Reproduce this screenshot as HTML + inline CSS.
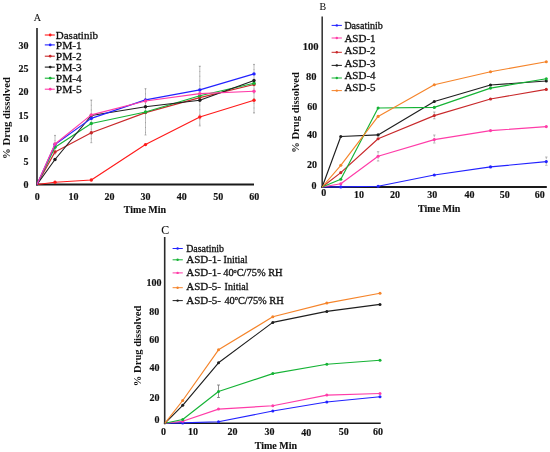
<!DOCTYPE html>
<html><head><meta charset="utf-8"><style>
html,body{margin:0;padding:0;background:#fff;}
body{width:550px;height:452px;overflow:hidden;}
svg{display:block;font-family:"Liberation Serif",serif;will-change:transform;}
</style></head><body>
<svg width="550" height="452" viewBox="0 0 550 452">
<rect width="550" height="452" fill="#fff"/>
<line x1="37" y1="28" x2="37" y2="185.5" stroke="#3a3a3a" stroke-width="1.8" />
<line x1="36.1" y1="184.5" x2="254" y2="184.5" stroke="#1a1a1a" stroke-width="1.8" />
<text x="37.3" y="21.3" font-size="10" font-weight="normal" font-style="normal" text-anchor="middle" fill="#111" stroke="#111" stroke-width="0.05" >A</text>
<text x="28.5" y="188.0" font-size="10" font-weight="bold" font-style="normal" text-anchor="end" fill="#111" stroke="#111" stroke-width="0.15" >0</text>
<text x="28.5" y="165.4" font-size="10" font-weight="bold" font-style="normal" text-anchor="end" fill="#111" stroke="#111" stroke-width="0.15" >5</text>
<text x="28.5" y="142.1" font-size="10" font-weight="bold" font-style="normal" text-anchor="end" fill="#111" stroke="#111" stroke-width="0.15" >10</text>
<text x="28.5" y="118.9" font-size="10" font-weight="bold" font-style="normal" text-anchor="end" fill="#111" stroke="#111" stroke-width="0.15" >15</text>
<text x="28.5" y="95.0" font-size="10" font-weight="bold" font-style="normal" text-anchor="end" fill="#111" stroke="#111" stroke-width="0.15" >20</text>
<text x="28.5" y="72.3" font-size="10" font-weight="bold" font-style="normal" text-anchor="end" fill="#111" stroke="#111" stroke-width="0.15" >25</text>
<text x="28.5" y="48.9" font-size="10" font-weight="bold" font-style="normal" text-anchor="end" fill="#111" stroke="#111" stroke-width="0.15" >30</text>
<text x="37.3" y="199.6" font-size="10" font-weight="bold" font-style="normal" text-anchor="middle" fill="#111" stroke="#111" stroke-width="0.15" >0</text>
<text x="73.5" y="199.6" font-size="10" font-weight="bold" font-style="normal" text-anchor="middle" fill="#111" stroke="#111" stroke-width="0.15" >10</text>
<text x="109.5" y="199.6" font-size="10" font-weight="bold" font-style="normal" text-anchor="middle" fill="#111" stroke="#111" stroke-width="0.15" >20</text>
<text x="145.4" y="199.6" font-size="10" font-weight="bold" font-style="normal" text-anchor="middle" fill="#111" stroke="#111" stroke-width="0.15" >30</text>
<text x="181.8" y="199.6" font-size="10" font-weight="bold" font-style="normal" text-anchor="middle" fill="#111" stroke="#111" stroke-width="0.15" >40</text>
<text x="218.2" y="199.6" font-size="10" font-weight="bold" font-style="normal" text-anchor="middle" fill="#111" stroke="#111" stroke-width="0.15" >50</text>
<text x="254.2" y="199.6" font-size="10" font-weight="bold" font-style="normal" text-anchor="middle" fill="#111" stroke="#111" stroke-width="0.15" >60</text>
<text x="145" y="212.7" font-size="10" font-weight="bold" font-style="normal" text-anchor="middle" fill="#111" stroke="#111" stroke-width="0.15" >Time Min</text>
<text transform="translate(9.6,158.9) rotate(-90)" font-size="10.75" font-weight="bold" fill="#111">% Drug dissolved</text>
<line x1="55" y1="135.4" x2="55" y2="154" stroke="#b4b4b4" stroke-width="0.9" />
<line x1="55" y1="135.4" x2="55" y2="154" stroke="#777" stroke-width="0.5" stroke-dasharray="0.8 4"/>
<line x1="54" y1="135.4" x2="56" y2="135.4" stroke="#888" stroke-width="0.6" />
<line x1="54" y1="154" x2="56" y2="154" stroke="#888" stroke-width="0.6" />
<line x1="91.3" y1="100" x2="91.3" y2="142.7" stroke="#b4b4b4" stroke-width="0.9" />
<line x1="91.3" y1="100" x2="91.3" y2="142.7" stroke="#777" stroke-width="0.5" stroke-dasharray="0.8 4"/>
<line x1="90.3" y1="100" x2="92.3" y2="100" stroke="#888" stroke-width="0.6" />
<line x1="90.3" y1="142.7" x2="92.3" y2="142.7" stroke="#888" stroke-width="0.6" />
<line x1="145.5" y1="88.7" x2="145.5" y2="135" stroke="#b4b4b4" stroke-width="0.9" />
<line x1="145.5" y1="88.7" x2="145.5" y2="135" stroke="#777" stroke-width="0.5" stroke-dasharray="0.8 4"/>
<line x1="144.5" y1="88.7" x2="146.5" y2="88.7" stroke="#888" stroke-width="0.6" />
<line x1="144.5" y1="135" x2="146.5" y2="135" stroke="#888" stroke-width="0.6" />
<line x1="199.8" y1="66.2" x2="199.8" y2="125.9" stroke="#b4b4b4" stroke-width="0.9" />
<line x1="199.8" y1="66.2" x2="199.8" y2="125.9" stroke="#777" stroke-width="0.5" stroke-dasharray="0.8 4"/>
<line x1="198.8" y1="66.2" x2="200.8" y2="66.2" stroke="#888" stroke-width="0.6" />
<line x1="198.8" y1="125.9" x2="200.8" y2="125.9" stroke="#888" stroke-width="0.6" />
<line x1="254" y1="64.4" x2="254" y2="113" stroke="#b4b4b4" stroke-width="0.9" />
<line x1="254" y1="64.4" x2="254" y2="113" stroke="#777" stroke-width="0.5" stroke-dasharray="0.8 4"/>
<line x1="253" y1="64.4" x2="255" y2="64.4" stroke="#888" stroke-width="0.6" />
<line x1="253" y1="113" x2="255" y2="113" stroke="#888" stroke-width="0.6" />
<polyline points="37,184.5 55,182.2 91.3,180 145.5,144.6 199.8,117 254,100.2" fill="none" stroke="#ff1a1a" stroke-width="1.15" stroke-linejoin="round"/>
<circle cx="55" cy="182.2" r="1.7" fill="#ff1a1a"/>
<circle cx="91.3" cy="180" r="1.7" fill="#ff1a1a"/>
<circle cx="145.5" cy="144.6" r="1.7" fill="#ff1a1a"/>
<circle cx="199.8" cy="117" r="1.7" fill="#ff1a1a"/>
<circle cx="254" cy="100.2" r="1.7" fill="#ff1a1a"/>
<polyline points="37,184.5 55,151.9 91.3,132.8 145.5,112.6 199.8,97.6 254,84.5" fill="none" stroke="#c8282a" stroke-width="1.15" stroke-linejoin="round"/>
<circle cx="55" cy="151.9" r="1.7" fill="#c8282a"/>
<circle cx="91.3" cy="132.8" r="1.7" fill="#c8282a"/>
<circle cx="145.5" cy="112.6" r="1.7" fill="#c8282a"/>
<circle cx="199.8" cy="97.6" r="1.7" fill="#c8282a"/>
<circle cx="254" cy="84.5" r="1.7" fill="#c8282a"/>
<polyline points="37,184.5 55,147.3 91.3,123.5 145.5,112 199.8,95.8 254,83.2" fill="none" stroke="#15b335" stroke-width="1.15" stroke-linejoin="round"/>
<circle cx="55" cy="147.3" r="1.7" fill="#15b335"/>
<circle cx="91.3" cy="123.5" r="1.7" fill="#15b335"/>
<circle cx="145.5" cy="112" r="1.7" fill="#15b335"/>
<circle cx="199.8" cy="95.8" r="1.7" fill="#15b335"/>
<circle cx="254" cy="83.2" r="1.7" fill="#15b335"/>
<polyline points="37,184.5 55,159.5 91.3,115.5 145.5,106.8 199.8,100.2 254,80.5" fill="none" stroke="#1e1e1e" stroke-width="1.15" stroke-linejoin="round"/>
<circle cx="55" cy="159.5" r="1.7" fill="#1e1e1e"/>
<circle cx="91.3" cy="115.5" r="1.7" fill="#1e1e1e"/>
<circle cx="145.5" cy="106.8" r="1.7" fill="#1e1e1e"/>
<circle cx="199.8" cy="100.2" r="1.7" fill="#1e1e1e"/>
<circle cx="254" cy="80.5" r="1.7" fill="#1e1e1e"/>
<polyline points="37,184.5 55,144.5 91.3,118.4 145.5,99.9 199.8,89.9 254,73.9" fill="none" stroke="#2222ff" stroke-width="1.15" stroke-linejoin="round"/>
<circle cx="55" cy="144.5" r="1.7" fill="#2222ff"/>
<circle cx="91.3" cy="118.4" r="1.7" fill="#2222ff"/>
<circle cx="145.5" cy="99.9" r="1.7" fill="#2222ff"/>
<circle cx="199.8" cy="89.9" r="1.7" fill="#2222ff"/>
<circle cx="254" cy="73.9" r="1.7" fill="#2222ff"/>
<polyline points="37,184.5 55,144 91.3,114.9 145.5,101 199.8,93.6 254,91.2" fill="none" stroke="#ff3ca8" stroke-width="1.15" stroke-linejoin="round"/>
<circle cx="55" cy="144" r="1.7" fill="#ff3ca8"/>
<circle cx="91.3" cy="114.9" r="1.7" fill="#ff3ca8"/>
<circle cx="145.5" cy="101" r="1.7" fill="#ff3ca8"/>
<circle cx="199.8" cy="93.6" r="1.7" fill="#ff3ca8"/>
<circle cx="254" cy="91.2" r="1.7" fill="#ff3ca8"/>
<line x1="44.8" y1="35" x2="54.8" y2="35" stroke="#ff1a1a" stroke-width="1.1" />
<circle cx="50.2" cy="35" r="1.4" fill="#ff1a1a"/>
<text x="55.8" y="38.8" font-size="11" font-weight="normal" font-style="normal" text-anchor="start" fill="#111" stroke="#111" stroke-width="0.3" >Dasatinib</text>
<line x1="44.8" y1="44.9" x2="54.8" y2="44.9" stroke="#2222ff" stroke-width="1.1" />
<circle cx="50.2" cy="44.9" r="1.4" fill="#2222ff"/>
<text x="55.8" y="49.4" font-size="11.4" font-weight="normal" font-style="normal" text-anchor="start" fill="#111" stroke="#111" stroke-width="0.3" >PM-1</text>
<line x1="44.8" y1="56.2" x2="54.8" y2="56.2" stroke="#c8282a" stroke-width="1.1" />
<circle cx="50.2" cy="56.2" r="1.4" fill="#c8282a"/>
<text x="55.8" y="59.7" font-size="11.4" font-weight="normal" font-style="normal" text-anchor="start" fill="#111" stroke="#111" stroke-width="0.3" >PM-2</text>
<line x1="44.8" y1="67.1" x2="54.8" y2="67.1" stroke="#1e1e1e" stroke-width="1.1" />
<circle cx="50.2" cy="67.1" r="1.4" fill="#1e1e1e"/>
<text x="55.8" y="70.6" font-size="11.4" font-weight="normal" font-style="normal" text-anchor="start" fill="#111" stroke="#111" stroke-width="0.3" >PM-3</text>
<line x1="44.8" y1="78.2" x2="54.8" y2="78.2" stroke="#15b335" stroke-width="1.1" />
<circle cx="50.2" cy="78.2" r="1.4" fill="#15b335"/>
<text x="55.8" y="82.2" font-size="11.4" font-weight="normal" font-style="normal" text-anchor="start" fill="#111" stroke="#111" stroke-width="0.3" >PM-4</text>
<line x1="44.8" y1="89.2" x2="54.8" y2="89.2" stroke="#ff3ca8" stroke-width="1.1" />
<circle cx="50.2" cy="89.2" r="1.4" fill="#ff3ca8"/>
<text x="55.8" y="93" font-size="11.4" font-weight="normal" font-style="normal" text-anchor="start" fill="#111" stroke="#111" stroke-width="0.3" >PM-5</text>
<line x1="322.2" y1="16.6" x2="322.2" y2="188" stroke="#3a3a3a" stroke-width="1.6" />
<line x1="321.4" y1="187" x2="546.8" y2="187" stroke="#1a1a1a" stroke-width="1.8" />
<text x="322.8" y="10.4" font-size="10" font-weight="normal" font-style="normal" text-anchor="middle" fill="#111" stroke="#111" stroke-width="0.05" >B</text>
<text x="316.6" y="188.7" font-size="10" font-weight="bold" font-style="normal" text-anchor="end" fill="#111" stroke="#111" stroke-width="0.15" >0</text>
<text x="317" y="168.0" font-size="10" font-weight="bold" font-style="normal" text-anchor="end" fill="#111" stroke="#111" stroke-width="0.15" >20</text>
<text x="317" y="138.3" font-size="10" font-weight="bold" font-style="normal" text-anchor="end" fill="#111" stroke="#111" stroke-width="0.15" >40</text>
<text x="317.2" y="109.6" font-size="10" font-weight="bold" font-style="normal" text-anchor="end" fill="#111" stroke="#111" stroke-width="0.15" >60</text>
<text x="316.5" y="79.8" font-size="10.5" font-weight="bold" font-style="normal" text-anchor="end" fill="#111" stroke="#111" stroke-width="0.15" >80</text>
<text x="318.6" y="50.4" font-size="10.6" font-weight="bold" font-style="normal" text-anchor="end" fill="#111" stroke="#111" stroke-width="0.15" >100</text>
<text x="323.7" y="196.2" font-size="10" font-weight="bold" font-style="normal" text-anchor="middle" fill="#111" stroke="#111" stroke-width="0.15" >0</text>
<text x="359" y="198.3" font-size="10" font-weight="bold" font-style="normal" text-anchor="middle" fill="#111" stroke="#111" stroke-width="0.15" >10</text>
<text x="395" y="198.3" font-size="10" font-weight="bold" font-style="normal" text-anchor="middle" fill="#111" stroke="#111" stroke-width="0.15" >20</text>
<text x="432.3" y="197.8" font-size="10" font-weight="bold" font-style="normal" text-anchor="middle" fill="#111" stroke="#111" stroke-width="0.15" >30</text>
<text x="469.5" y="197.8" font-size="10" font-weight="bold" font-style="normal" text-anchor="middle" fill="#111" stroke="#111" stroke-width="0.15" >40</text>
<text x="504.8" y="197.8" font-size="10" font-weight="bold" font-style="normal" text-anchor="middle" fill="#111" stroke="#111" stroke-width="0.15" >50</text>
<text x="539.8" y="197.8" font-size="10" font-weight="bold" font-style="normal" text-anchor="middle" fill="#111" stroke="#111" stroke-width="0.15" >60</text>
<text x="439.2" y="211.7" font-size="10" font-weight="bold" font-style="normal" text-anchor="middle" fill="#111" stroke="#111" stroke-width="0.15" >Time Min</text>
<text transform="translate(298.6,152.8) rotate(-90)" font-size="10.6" font-weight="bold" fill="#111">% Drug dissolved</text>
<line x1="378.1" y1="151.7" x2="378.1" y2="161" stroke="#8a8a8a" stroke-width="0.6" stroke-dasharray="2 0.8"/>
<line x1="376.90000000000003" y1="151.7" x2="379.3" y2="151.7" stroke="#8a8a8a" stroke-width="0.6" />
<line x1="376.90000000000003" y1="161" x2="379.3" y2="161" stroke="#8a8a8a" stroke-width="0.6" />
<line x1="434.3" y1="112" x2="434.3" y2="118.8" stroke="#8a8a8a" stroke-width="0.6" stroke-dasharray="2 0.8"/>
<line x1="433.1" y1="112" x2="435.5" y2="112" stroke="#8a8a8a" stroke-width="0.6" />
<line x1="433.1" y1="118.8" x2="435.5" y2="118.8" stroke="#8a8a8a" stroke-width="0.6" />
<line x1="434.3" y1="135" x2="434.3" y2="143" stroke="#8a8a8a" stroke-width="0.6" stroke-dasharray="2 0.8"/>
<line x1="433.1" y1="135" x2="435.5" y2="135" stroke="#8a8a8a" stroke-width="0.6" />
<line x1="433.1" y1="143" x2="435.5" y2="143" stroke="#8a8a8a" stroke-width="0.6" />
<line x1="546.3" y1="157" x2="546.3" y2="165.3" stroke="#8a8a8a" stroke-width="0.6" stroke-dasharray="2 0.8"/>
<line x1="545.0999999999999" y1="157" x2="547.5" y2="157" stroke="#8a8a8a" stroke-width="0.6" />
<line x1="545.0999999999999" y1="165.3" x2="547.5" y2="165.3" stroke="#8a8a8a" stroke-width="0.6" />
<polyline points="322.2,187 340.8,186.9 378.1,186.3 434.3,175 490.5,166.9 546.3,161.6" fill="none" stroke="#2222ff" stroke-width="1.15" stroke-linejoin="round"/>
<circle cx="340.8" cy="186.9" r="1.55" fill="#2222ff"/>
<circle cx="378.1" cy="186.3" r="1.55" fill="#2222ff"/>
<circle cx="434.3" cy="175" r="1.55" fill="#2222ff"/>
<circle cx="490.5" cy="166.9" r="1.55" fill="#2222ff"/>
<circle cx="546.3" cy="161.6" r="1.55" fill="#2222ff"/>
<polyline points="322.2,187 340.8,183.8 378.1,156.2 434.3,139.6 490.5,130.6 546.3,126.6" fill="none" stroke="#ff3ca8" stroke-width="1.15" stroke-linejoin="round"/>
<circle cx="340.8" cy="183.8" r="1.55" fill="#ff3ca8"/>
<circle cx="378.1" cy="156.2" r="1.55" fill="#ff3ca8"/>
<circle cx="434.3" cy="139.6" r="1.55" fill="#ff3ca8"/>
<circle cx="490.5" cy="130.6" r="1.55" fill="#ff3ca8"/>
<circle cx="546.3" cy="126.6" r="1.55" fill="#ff3ca8"/>
<polyline points="322.2,187 340.8,172.6 378.1,138.7 434.3,115.6 490.5,99 546.3,89.4" fill="none" stroke="#c8282a" stroke-width="1.15" stroke-linejoin="round"/>
<circle cx="340.8" cy="172.6" r="1.55" fill="#c8282a"/>
<circle cx="378.1" cy="138.7" r="1.55" fill="#c8282a"/>
<circle cx="434.3" cy="115.6" r="1.55" fill="#c8282a"/>
<circle cx="490.5" cy="99" r="1.55" fill="#c8282a"/>
<circle cx="546.3" cy="89.4" r="1.55" fill="#c8282a"/>
<polyline points="322.2,187 340.8,136.5 378.1,134.9 434.3,101.5 490.5,85 546.3,81" fill="none" stroke="#1e1e1e" stroke-width="1.15" stroke-linejoin="round"/>
<circle cx="340.8" cy="136.5" r="1.55" fill="#1e1e1e"/>
<circle cx="378.1" cy="134.9" r="1.55" fill="#1e1e1e"/>
<circle cx="434.3" cy="101.5" r="1.55" fill="#1e1e1e"/>
<circle cx="490.5" cy="85" r="1.55" fill="#1e1e1e"/>
<circle cx="546.3" cy="81" r="1.55" fill="#1e1e1e"/>
<polyline points="322.2,187 340.8,179.3 378.1,108 434.3,107.4 490.5,88.1 546.3,78.8" fill="none" stroke="#15b335" stroke-width="1.15" stroke-linejoin="round"/>
<circle cx="340.8" cy="179.3" r="1.55" fill="#15b335"/>
<circle cx="378.1" cy="108" r="1.55" fill="#15b335"/>
<circle cx="434.3" cy="107.4" r="1.55" fill="#15b335"/>
<circle cx="490.5" cy="88.1" r="1.55" fill="#15b335"/>
<circle cx="546.3" cy="78.8" r="1.55" fill="#15b335"/>
<polyline points="322.2,187 340.8,165.3 378.1,116.4 434.3,84.7 490.5,71.7 546.3,61.8" fill="none" stroke="#f5842a" stroke-width="1.15" stroke-linejoin="round"/>
<circle cx="340.8" cy="165.3" r="1.55" fill="#f5842a"/>
<circle cx="378.1" cy="116.4" r="1.55" fill="#f5842a"/>
<circle cx="434.3" cy="84.7" r="1.55" fill="#f5842a"/>
<circle cx="490.5" cy="71.7" r="1.55" fill="#f5842a"/>
<circle cx="546.3" cy="61.8" r="1.55" fill="#f5842a"/>
<line x1="331.6" y1="25.4" x2="341.9" y2="25.4" stroke="#2222ff" stroke-width="1" />
<circle cx="336.8" cy="25.4" r="1.2" fill="#2222ff"/>
<text x="344.4" y="29.1" font-size="10" font-weight="normal" font-style="normal" text-anchor="start" fill="#111" stroke="#111" stroke-width="0.3" >Dasatinib</text>
<line x1="331.6" y1="38" x2="341.9" y2="38" stroke="#ff3ca8" stroke-width="1" />
<circle cx="336.8" cy="38" r="1.2" fill="#ff3ca8"/>
<text x="344.4" y="42.3" font-size="11" font-weight="normal" font-style="normal" text-anchor="start" fill="#111" stroke="#111" stroke-width="0.3" >ASD-1</text>
<line x1="331.6" y1="52.3" x2="341.9" y2="52.3" stroke="#c8282a" stroke-width="1" />
<circle cx="336.8" cy="52.3" r="1.2" fill="#c8282a"/>
<text x="344.4" y="53.6" font-size="11" font-weight="normal" font-style="normal" text-anchor="start" fill="#111" stroke="#111" stroke-width="0.3" >ASD-2</text>
<line x1="331.6" y1="65.4" x2="341.9" y2="65.4" stroke="#1e1e1e" stroke-width="1" />
<circle cx="336.8" cy="65.4" r="1.2" fill="#1e1e1e"/>
<text x="344.4" y="66.7" font-size="11" font-weight="normal" font-style="normal" text-anchor="start" fill="#111" stroke="#111" stroke-width="0.3" >ASD-3</text>
<line x1="331.6" y1="78" x2="341.9" y2="78" stroke="#15b335" stroke-width="1" />
<circle cx="336.8" cy="78" r="1.2" fill="#15b335"/>
<text x="344.4" y="79" font-size="11" font-weight="normal" font-style="normal" text-anchor="start" fill="#111" stroke="#111" stroke-width="0.3" >ASD-4</text>
<line x1="331.6" y1="90.6" x2="341.9" y2="90.6" stroke="#f5842a" stroke-width="1" />
<circle cx="336.8" cy="90.6" r="1.2" fill="#f5842a"/>
<text x="344.4" y="91.2" font-size="11" font-weight="normal" font-style="normal" text-anchor="start" fill="#111" stroke="#111" stroke-width="0.3" >ASD-5</text>
<line x1="164.7" y1="237" x2="164.7" y2="424.3" stroke="#2a2a2a" stroke-width="1.6" />
<line x1="163.89999999999998" y1="423.3" x2="380.7" y2="423.3" stroke="#1a1a1a" stroke-width="1.6" />
<text x="165.3" y="233.6" font-size="11.8" font-weight="normal" font-style="normal" text-anchor="middle" fill="#111" stroke="#111" stroke-width="0.1" >C</text>
<text x="159.6" y="423.1" font-size="10" font-weight="bold" font-style="normal" text-anchor="end" fill="#111" stroke="#111" stroke-width="0.15" >0</text>
<text x="159.6" y="401.0" font-size="10" font-weight="bold" font-style="normal" text-anchor="end" fill="#111" stroke="#111" stroke-width="0.15" >20</text>
<text x="159.6" y="370.7" font-size="10" font-weight="bold" font-style="normal" text-anchor="end" fill="#111" stroke="#111" stroke-width="0.15" >40</text>
<text x="159.3" y="342.8" font-size="10" font-weight="bold" font-style="normal" text-anchor="end" fill="#111" stroke="#111" stroke-width="0.15" >60</text>
<text x="159.3" y="315.3" font-size="10" font-weight="bold" font-style="normal" text-anchor="end" fill="#111" stroke="#111" stroke-width="0.15" >80</text>
<text x="161.4" y="286.3" font-size="10" font-weight="bold" font-style="normal" text-anchor="end" fill="#111" stroke="#111" stroke-width="0.15" >100</text>
<text x="163.5" y="434.8" font-size="10" font-weight="bold" font-style="normal" text-anchor="middle" fill="#111" stroke="#111" stroke-width="0.15" >0</text>
<text x="193" y="434.8" font-size="10" font-weight="bold" font-style="normal" text-anchor="middle" fill="#111" stroke="#111" stroke-width="0.15" >10</text>
<text x="232.5" y="434.8" font-size="10" font-weight="bold" font-style="normal" text-anchor="middle" fill="#111" stroke="#111" stroke-width="0.15" >20</text>
<text x="269.4" y="434.8" font-size="10" font-weight="bold" font-style="normal" text-anchor="middle" fill="#111" stroke="#111" stroke-width="0.15" >30</text>
<text x="306.3" y="435.6" font-size="10" font-weight="bold" font-style="normal" text-anchor="middle" fill="#111" stroke="#111" stroke-width="0.15" >40</text>
<text x="343.7" y="434.8" font-size="10" font-weight="bold" font-style="normal" text-anchor="middle" fill="#111" stroke="#111" stroke-width="0.15" >50</text>
<text x="377.9" y="434.8" font-size="10" font-weight="bold" font-style="normal" text-anchor="middle" fill="#111" stroke="#111" stroke-width="0.15" >60</text>
<text x="275.9" y="449.2" font-size="10" font-weight="bold" font-style="normal" text-anchor="middle" fill="#111" stroke="#111" stroke-width="0.15" >Time Min</text>
<text transform="translate(141.4,386.2) rotate(-90)" font-size="10.6" font-weight="bold" fill="#111">% Drug dissolved</text>
<line x1="218.5" y1="385" x2="218.5" y2="397.5" stroke="#666" stroke-width="0.7" />
<line x1="217.0" y1="385" x2="220.0" y2="385" stroke="#666" stroke-width="0.7" />
<line x1="217.0" y1="397.5" x2="220.0" y2="397.5" stroke="#666" stroke-width="0.7" />
<polyline points="164.8,423.3 182.7,422.9 218.5,421.8 272.8,411 326.8,402 380,396.8" fill="none" stroke="#2222ff" stroke-width="1.15" stroke-linejoin="round"/>
<circle cx="182.7" cy="422.9" r="1.5" fill="#2222ff"/>
<circle cx="218.5" cy="421.8" r="1.5" fill="#2222ff"/>
<circle cx="272.8" cy="411" r="1.5" fill="#2222ff"/>
<circle cx="326.8" cy="402" r="1.5" fill="#2222ff"/>
<circle cx="380" cy="396.8" r="1.5" fill="#2222ff"/>
<polyline points="164.8,423.3 182.7,421.3 218.5,409.1 272.8,405.8 326.8,395.1 380,393.5" fill="none" stroke="#ff3ca8" stroke-width="1.15" stroke-linejoin="round"/>
<circle cx="182.7" cy="421.3" r="1.5" fill="#ff3ca8"/>
<circle cx="218.5" cy="409.1" r="1.5" fill="#ff3ca8"/>
<circle cx="272.8" cy="405.8" r="1.5" fill="#ff3ca8"/>
<circle cx="326.8" cy="395.1" r="1.5" fill="#ff3ca8"/>
<circle cx="380" cy="393.5" r="1.5" fill="#ff3ca8"/>
<polyline points="164.8,423.3 182.7,419.5 218.5,391.5 272.8,373.6 326.8,364.3 380,360.2" fill="none" stroke="#15b335" stroke-width="1.15" stroke-linejoin="round"/>
<circle cx="182.7" cy="419.5" r="1.5" fill="#15b335"/>
<circle cx="218.5" cy="391.5" r="1.5" fill="#15b335"/>
<circle cx="272.8" cy="373.6" r="1.5" fill="#15b335"/>
<circle cx="326.8" cy="364.3" r="1.5" fill="#15b335"/>
<circle cx="380" cy="360.2" r="1.5" fill="#15b335"/>
<polyline points="164.8,423.3 182.7,405.3 218.5,362.8 272.8,322.4 326.8,311.4 380,304.4" fill="none" stroke="#1e1e1e" stroke-width="1.15" stroke-linejoin="round"/>
<circle cx="182.7" cy="405.3" r="1.5" fill="#1e1e1e"/>
<circle cx="218.5" cy="362.8" r="1.5" fill="#1e1e1e"/>
<circle cx="272.8" cy="322.4" r="1.5" fill="#1e1e1e"/>
<circle cx="326.8" cy="311.4" r="1.5" fill="#1e1e1e"/>
<circle cx="380" cy="304.4" r="1.5" fill="#1e1e1e"/>
<polyline points="164.8,423.3 182.7,400.5 218.5,349.8 272.8,316.8 326.8,303.1 380,293.3" fill="none" stroke="#f5842a" stroke-width="1.15" stroke-linejoin="round"/>
<circle cx="182.7" cy="400.5" r="1.5" fill="#f5842a"/>
<circle cx="218.5" cy="349.8" r="1.5" fill="#f5842a"/>
<circle cx="272.8" cy="316.8" r="1.5" fill="#f5842a"/>
<circle cx="326.8" cy="303.1" r="1.5" fill="#f5842a"/>
<circle cx="380" cy="293.3" r="1.5" fill="#f5842a"/>
<line x1="172.6" y1="248.5" x2="182.8" y2="248.5" stroke="#2222ff" stroke-width="1" />
<circle cx="177.6" cy="248.5" r="1.2" fill="#2222ff"/>
<text x="186.2" y="252.0" font-size="9.9" font-weight="normal" font-style="normal" text-anchor="start" fill="#111" stroke="#111" stroke-width="0.3" >Dasatinib</text>
<line x1="172.6" y1="259.8" x2="182.8" y2="259.8" stroke="#15b335" stroke-width="1" />
<circle cx="177.6" cy="259.8" r="1.2" fill="#15b335"/>
<text x="186.2" y="262.6" font-size="11" font-weight="normal" font-style="normal" text-anchor="start" fill="#111" stroke="#111" stroke-width="0.3" >ASD-1-</text>
<text x="223.6" y="262.6" font-size="10" font-weight="normal" font-style="normal" text-anchor="start" fill="#111" stroke="#111" stroke-width="0.3" >Initial</text>
<line x1="172.6" y1="272.9" x2="182.8" y2="272.9" stroke="#ff3ca8" stroke-width="1" />
<circle cx="177.6" cy="272.9" r="1.2" fill="#ff3ca8"/>
<text x="186.2" y="276.2" font-size="11" font-weight="normal" font-style="normal" text-anchor="start" fill="#111" stroke="#111" stroke-width="0.3" >ASD-1-</text>
<text x="223.2" y="276.2" font-size="10.4" fill="#111" stroke="#111" stroke-width="0.3">40<tspan font-size="6.2" dy="-3.2">o</tspan><tspan dy="3.2" font-size="10.4">C/75% RH</tspan></text>
<line x1="172.6" y1="287.7" x2="182.8" y2="287.7" stroke="#f5842a" stroke-width="1" />
<circle cx="177.6" cy="287.7" r="1.2" fill="#f5842a"/>
<text x="186.2" y="289.8" font-size="11" font-weight="normal" font-style="normal" text-anchor="start" fill="#111" stroke="#111" stroke-width="0.3" >ASD-5-</text>
<text x="224.6" y="289.8" font-size="10" font-weight="normal" font-style="normal" text-anchor="start" fill="#111" stroke="#111" stroke-width="0.3" >Initial</text>
<line x1="172.6" y1="300.6" x2="182.8" y2="300.6" stroke="#1e1e1e" stroke-width="1" />
<circle cx="177.6" cy="300.6" r="1.2" fill="#1e1e1e"/>
<text x="186.2" y="303.6" font-size="11" font-weight="normal" font-style="normal" text-anchor="start" fill="#111" stroke="#111" stroke-width="0.3" >ASD-5-</text>
<text x="224.4" y="303.6" font-size="10.4" fill="#111" stroke="#111" stroke-width="0.3">40<tspan font-size="6.2" dy="-3.2">o</tspan><tspan dy="3.2" font-size="10.4">C/75% RH</tspan></text>
</svg>
</body></html>
